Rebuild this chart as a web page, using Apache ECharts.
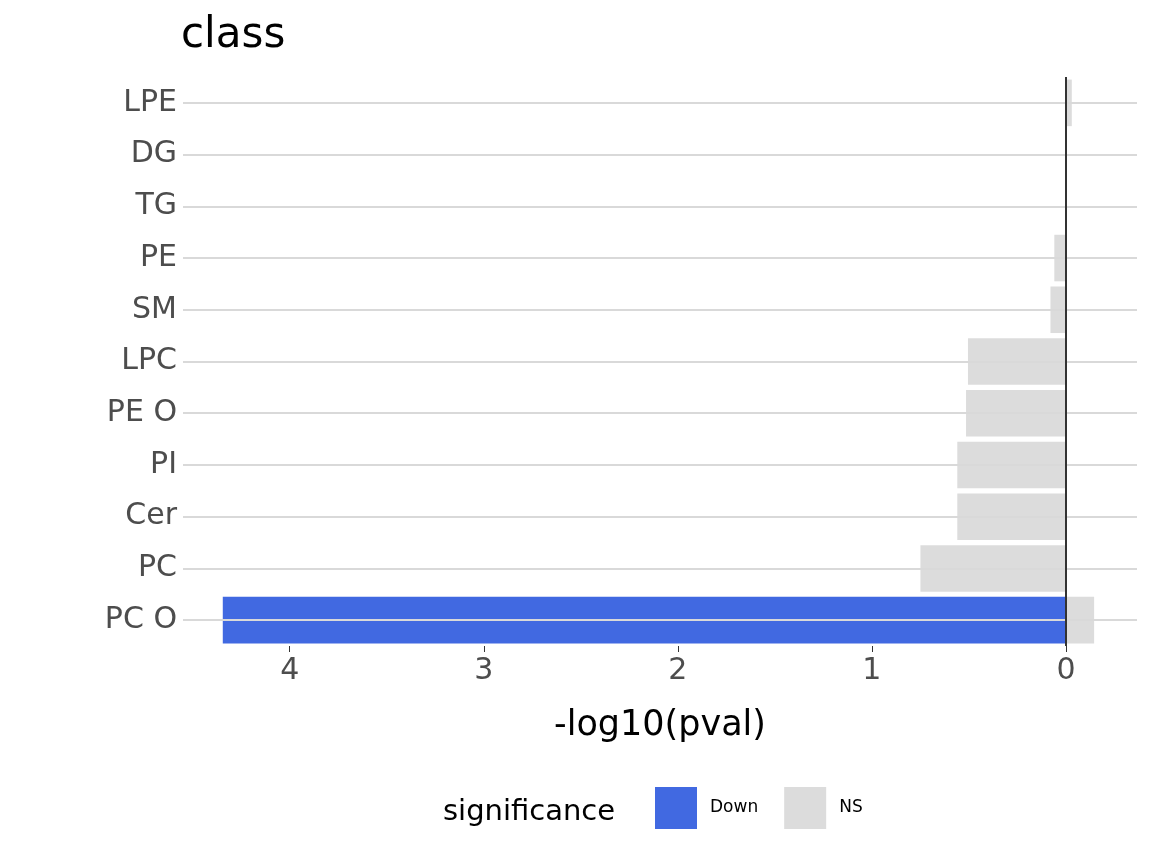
<!DOCTYPE html><html><head><meta charset="utf-8"><script src="https://cdn.jsdelivr.net/npm/echarts@6/dist/echarts.min.js"></script></head><body style="margin:0"><div id="c" style="width:1152px;height:865px"></div><script>
const categories=['PC O','PC','Cer','PI','PE O','LPC','SM','PE','TG','DG','LPE'];
const downVals=[4.345,null,null,null,null,null,null,null,null,null,null];
const nsVals=[-0.145,0.75,0.56,0.56,0.515,0.505,0.08,0.06,0,0,-0.03];
const ticks=[0,1,2,3,4];
const XMIN=-0.366,XMAX=4.55;
const ch=echarts.init(document.getElementById('c'));
const F='DejaVu Sans';
ch.setOption({
 animation:false,
 title:{text:'class',left:176,top:10,textStyle:{fontFamily:F,fontSize:42,fontWeight:'normal',color:'#000'}},
 grid:{left:183,right:15,top:77,bottom:219},
 xAxis:{type:'value',inverse:true,min:XMIN,max:XMAX,
  name:'-log10(pval)',nameLocation:'middle',nameGap:62,nameTextStyle:{fontFamily:F,fontSize:35,color:'#000'},
  axisLine:{show:false},splitLine:{show:false},
  axisTick:{show:true,length:6,lineStyle:{color:'#333'},customValues:ticks},
  axisLabel:{customValues:ticks,fontFamily:F,fontSize:30,color:'#4d4d4d',margin:10,formatter:v=>String(Math.abs(v))}},
 yAxis:{type:'category',data:categories,axisLine:{show:true,lineStyle:{color:'rgba(0,0,0,0)'}},
  axisTick:{show:true,alignWithLabel:true,length:6,lineStyle:{color:'#333',width:2}},
  axisLabel:{fontFamily:F,fontSize:30,color:'#4d4d4d',margin:6},splitLine:{show:false}},
 legend:{bottom:31,left:650,itemWidth:42,itemHeight:42,itemGap:26,icon:'rect',
  textStyle:{fontFamily:F,fontSize:17,color:'#000',padding:[0,0,0,8]},data:['Down','NS']},
 graphic:[{type:'text',left:443,top:798,style:{text:'significance',font:'29px "DejaVu Sans"',fill:'#000'}}],
 series:[
  {type:'line',name:'grid',data:[],z:0,silent:true,markLine:{silent:true,symbol:'none',label:{show:false},
    lineStyle:{color:'#d9d9d9',width:2,type:'solid'},data:categories.map(c=>[{coord:[XMIN,c]},{coord:[XMAX,c]}])}},
  {type:'bar',name:'Down',stack:'a',data:downVals,barCategoryGap:'10%',itemStyle:{color:'#4169e1'},z:2},
  {type:'bar',name:'NS',stack:'a',data:nsVals,barCategoryGap:'10%',itemStyle:{color:'#dcdcdc'},z:2,
   markLine:{silent:true,symbol:'none',label:{show:false},lineStyle:{color:'#333',width:2,type:'solid'},data:[{xAxis:0}]}}
 ]
});
</script></body></html>
